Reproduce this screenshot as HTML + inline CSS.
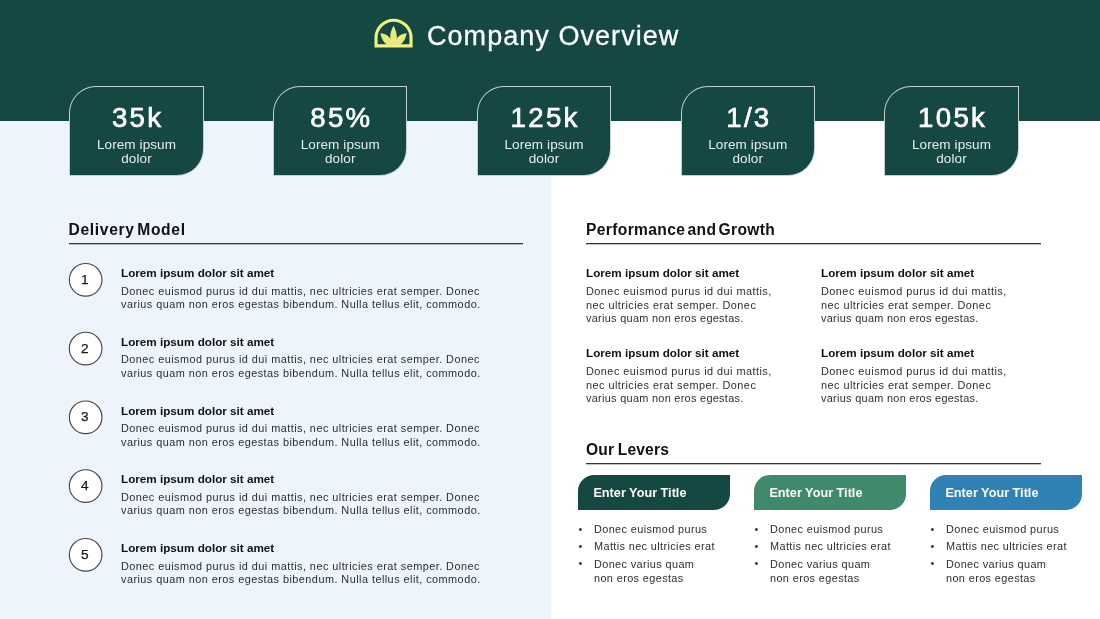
<!DOCTYPE html>
<html lang="en">
<head>
<meta charset="utf-8">
<title>Company Overview</title>
<style>
*{box-sizing:border-box;margin:0;padding:0}
html,body{width:1100px;height:619px;overflow:hidden;background:#fff}
body{font-family:"Liberation Sans",sans-serif;position:relative;color:#111}
.abs{position:absolute}
#left{left:0;top:0;width:551px;height:619px;background:#edf4fb}
#hdr{left:0;top:0;width:1100px;height:121px;background:#154843}
#ttl{left:427px;top:16px;font-size:27px;line-height:40px;color:#fff;white-space:nowrap;letter-spacing:1.05px;-webkit-text-stroke:.3px #fff}
.card{top:86px;width:134.4px;height:90px;background:#154843;border:1px solid rgba(255,255,255,.75);border-radius:27px 0 27px 0;text-align:center;color:#fff}
.card b{display:block;font-size:27.6px;line-height:30px;margin-top:15.5px;font-weight:normal;-webkit-text-stroke:.7px #fff;letter-spacing:2.3px;padding-left:2.3px}
.card span{display:block;font-size:13.5px;letter-spacing:.1px;line-height:14px;margin-top:5px;color:#e6eeec}
h2{position:absolute;font-size:15.6px;letter-spacing:.69px;word-spacing:-2.5px;line-height:20px;font-weight:bold;white-space:nowrap;color:#111}
.rule{height:2px;background:linear-gradient(#363636 50%,rgba(54,54,54,.3) 50%)}
.it{white-space:nowrap}
.it b{display:block;font-size:11.7px;line-height:14px;color:#111}
.it p{font-size:10.9px;letter-spacing:.45px;line-height:13.5px;color:#2e2e2e;margin-top:4.5px}
.it p.r{margin-top:5px}
.l1{letter-spacing:.46px}.l2{letter-spacing:.46px}.l3{letter-spacing:.3px}
.tab{top:475px;width:152px;height:35px;border-radius:16px 0 16px 0;color:#fff;font-weight:bold;font-size:12.7px;letter-spacing:0;line-height:37px;padding-left:15.4px;white-space:nowrap}
.bl{font-size:10.9px;letter-spacing:.38px;line-height:14px;color:#2e2e2e;white-space:nowrap}
.bl div{position:relative;padding-left:16px;margin-bottom:3.3px}
.bl div:before{content:"\2022";position:absolute;left:.6px;top:-.4px}
</style>
</head>
<body>
<div id="left" class="abs"></div>
<div id="hdr" class="abs"></div>
<svg class="abs" style="left:370px;top:14px" width="48" height="38" viewBox="0 0 48 38">
<path d="M6.05 31.85 V23.8 A17.5 17.5 0 0 1 41.05 23.8 V31.85 Z" fill="none" stroke="#f2f37f" stroke-width="3.1" stroke-linejoin="miter"/>
<g fill="#e8ea7c"><path d="M23.55 11.8 C24.8 14 26.8 18.5 26.8 23 C26.8 26 26 29 25.5 31 H21.6 C21.1 29 20.3 26 20.3 23 C20.3 18.5 22.3 14 23.55 11.8 Z"/><path d="M10.4 19.2 C15.5 19.4 19.8 22.3 22.2 27.5 L24 31 H17.3 C13.3 28.5 11.3 24 10.4 19.2 Z"/><path d="M36.7 19.2 C31.6 19.4 27.3 22.3 24.9 27.5 L23 31 H29.8 C33.8 28.5 35.8 24 36.7 19.2 Z"/></g>
</svg>
<div id="ttl" class="abs">Company Overview</div>

<div class="card abs" style="left:69.30px"><b>35k</b><span>Lorem ipsum<br>dolor</span></div>
<div class="card abs" style="left:273.05px"><b>85%</b><span>Lorem ipsum<br>dolor</span></div>
<div class="card abs" style="left:476.80px"><b>125k</b><span>Lorem ipsum<br>dolor</span></div>
<div class="card abs" style="left:680.55px"><b>1/3</b><span>Lorem ipsum<br>dolor</span></div>
<div class="card abs" style="left:884.30px"><b>105k</b><span>Lorem ipsum<br>dolor</span></div>

<h2 style="left:68.5px;top:219.5px">Delivery Model</h2>
<div class="rule abs" style="left:69px;top:243px;width:454px"></div>

<svg class="abs" style="left:0;top:250px" width="120" height="340" viewBox="0 250 120 340"><g fill="#fff" stroke="#484848" stroke-width="1.15"><circle cx="85.65" cy="279.80" r="16.3"/><circle cx="85.65" cy="348.55" r="16.3"/><circle cx="85.65" cy="417.30" r="16.3"/><circle cx="85.65" cy="486.05" r="16.3"/><circle cx="85.65" cy="554.80" r="16.3"/></g><g font-family="Liberation Sans, sans-serif" font-size="13.7" text-anchor="middle" fill="#1a1a1a" stroke="#1a1a1a" stroke-width=".25"><text x="84.9" y="283.95">1</text><text x="84.9" y="352.70">2</text><text x="84.9" y="421.45">3</text><text x="84.9" y="490.20">4</text><text x="84.9" y="558.95">5</text></g></svg>
<div class="it abs" style="left:121px;top:266.00px"><b>Lorem ipsum dolor sit amet</b><p>Donec euismod purus id dui mattis, nec ultricies erat semper. Donec<br>varius quam non eros egestas bibendum. Nulla tellus elit, commodo.</p></div>
<div class="it abs" style="left:121px;top:334.75px"><b>Lorem ipsum dolor sit amet</b><p>Donec euismod purus id dui mattis, nec ultricies erat semper. Donec<br>varius quam non eros egestas bibendum. Nulla tellus elit, commodo.</p></div>
<div class="it abs" style="left:121px;top:403.50px"><b>Lorem ipsum dolor sit amet</b><p>Donec euismod purus id dui mattis, nec ultricies erat semper. Donec<br>varius quam non eros egestas bibendum. Nulla tellus elit, commodo.</p></div>
<div class="it abs" style="left:121px;top:472.25px"><b>Lorem ipsum dolor sit amet</b><p>Donec euismod purus id dui mattis, nec ultricies erat semper. Donec<br>varius quam non eros egestas bibendum. Nulla tellus elit, commodo.</p></div>
<div class="it abs" style="left:121px;top:541.00px"><b>Lorem ipsum dolor sit amet</b><p>Donec euismod purus id dui mattis, nec ultricies erat semper. Donec<br>varius quam non eros egestas bibendum. Nulla tellus elit, commodo.</p></div>

<h2 style="left:586px;top:219.5px;letter-spacing:.36px">Performance and Growth</h2>
<div class="rule abs" style="left:586px;top:243px;width:455px"></div>

<div class="it abs" style="left:586px;top:266px"><b>Lorem ipsum dolor sit amet</b><p class="r"><span class="l1">Donec euismod purus id dui mattis,</span><br><span class="l2">nec ultricies erat semper. Donec</span><br><span class="l3">varius quam non eros egestas.</span></p></div>
<div class="it abs" style="left:821px;top:266px"><b>Lorem ipsum dolor sit amet</b><p class="r"><span class="l1">Donec euismod purus id dui mattis,</span><br><span class="l2">nec ultricies erat semper. Donec</span><br><span class="l3">varius quam non eros egestas.</span></p></div>
<div class="it abs" style="left:586px;top:346px"><b>Lorem ipsum dolor sit amet</b><p class="r"><span class="l1">Donec euismod purus id dui mattis,</span><br><span class="l2">nec ultricies erat semper. Donec</span><br><span class="l3">varius quam non eros egestas.</span></p></div>
<div class="it abs" style="left:821px;top:346px"><b>Lorem ipsum dolor sit amet</b><p class="r"><span class="l1">Donec euismod purus id dui mattis,</span><br><span class="l2">nec ultricies erat semper. Donec</span><br><span class="l3">varius quam non eros egestas.</span></p></div>

<h2 style="left:586px;top:439.5px;letter-spacing:.17px;word-spacing:-1px">Our Levers</h2>
<div class="rule abs" style="left:586px;top:463px;width:455px"></div>

<div class="tab abs" style="left:578px;background:#154843">Enter Your Title</div>
<div class="tab abs" style="left:754px;background:#3f8a6a">Enter Your Title</div>
<div class="tab abs" style="left:930px;background:#2f82b3">Enter Your Title</div>

<div class="bl abs" style="left:578px;top:522px"><div>Donec euismod purus</div><div>Mattis nec ultricies erat</div><div>Donec varius quam<br>non eros egestas</div></div>
<div class="bl abs" style="left:754px;top:522px"><div>Donec euismod purus</div><div>Mattis nec ultricies erat</div><div>Donec varius quam<br>non eros egestas</div></div>
<div class="bl abs" style="left:930px;top:522px"><div>Donec euismod purus</div><div>Mattis nec ultricies erat</div><div>Donec varius quam<br>non eros egestas</div></div>
</body>
</html>
